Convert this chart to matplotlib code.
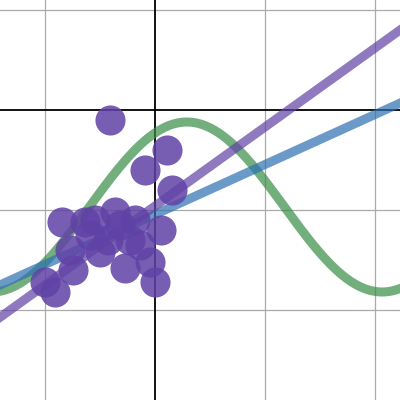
import numpy as np
import matplotlib.pyplot as plt

# scatter points
pts_x = [-0.41, 0.11, -0.09, 0.15, -0.85, -0.64, -0.55, -0.36, -0.18, 0.05, -0.23, -0.43,
         -0.77, -0.5, -0.05, -0.27, -0.75, -1.0, -0.91, 0.0, -0.14, -0.59, -0.32]
pts_y = [-0.10, -0.40, -0.60, -0.80, -1.12, -1.12, -1.10, -1.02, -1.10, -1.20, -1.30, -1.30,
         -1.40, -1.42, -1.52, -1.58, -1.60, -1.72, -1.82, -1.72, -1.35, -1.25, -1.15]

# fitted lines: slope, intercept
blue_line = (0.5, -1.045)
purple_line = (0.79, -0.96)
# sine fit: center, amplitude, period, x of peak
sine_fit = (-0.97, 0.85, 3.55, 0.29)

fig = plt.figure(figsize=(4, 4), dpi=100)
ax = fig.add_axes([0, 0, 1, 1])
xmin, xmax = -155 / 110, 245 / 110
ymin, ymax = -2.9, 1.1
ax.set_xlim(xmin, xmax)
ax.set_ylim(ymin, ymax)
for v in [-1, 1, 2]:
    ax.axvline(v, color='#aaaaaa', lw=0.9, zorder=0)
for v in [1, -1, -2]:
    ax.axhline(v, color='#aaaaaa', lw=0.9, zorder=0)
ax.axvline(0, color='black', lw=1.3, zorder=0)
ax.axhline(0, color='black', lw=1.3, zorder=0)

xs = np.linspace(xmin, xmax, 400)
c, a, p, x0 = sine_fit
ax.plot(xs, c + a * np.cos(2 * np.pi * (xs - x0) / p), color='#388c46', lw=6.5, alpha=0.7)
ax.plot(xs, blue_line[0] * xs + blue_line[1], color='#2d70b3', lw=6.5, alpha=0.7)
ax.plot(xs, purple_line[0] * xs + purple_line[1], color='#6042a6', lw=6.5, alpha=0.7)
ax.scatter(pts_x, pts_y, s=470, color='#6042a6', alpha=0.85, lw=0, zorder=3)
ax.set_xticks([])
ax.set_yticks([])
for s in ax.spines.values():
    s.set_visible(False)
fig.savefig('out.png', dpi=100)
